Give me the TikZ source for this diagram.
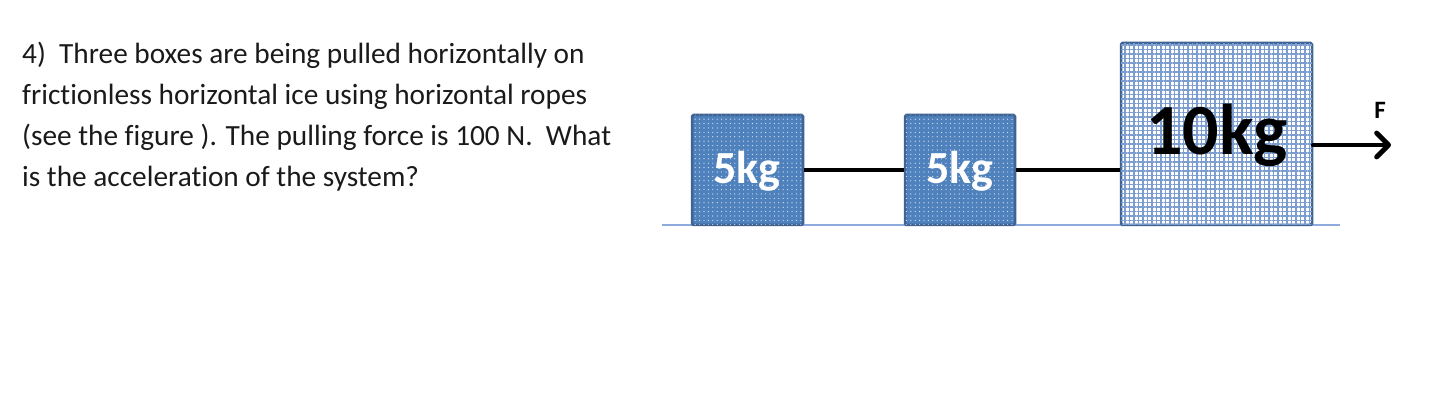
\documentclass[tikz,border=0pt]{standalone}
\usepackage{fontspec}
\setmainfont{Carlito}[Ligatures=NoCommon]
\usetikzlibrary{patterns.meta,arrows.meta}
\definecolor{boxblue}{HTML}{4F81BD}
\definecolor{boxedge}{HTML}{3F6494}
\definecolor{gridblue}{HTML}{7B9DD0}
\definecolor{groundblue}{HTML}{8FAADC}
\definecolor{txt}{HTML}{1A1A1A}
\tikzset{
  qtext/.style={anchor=base west, inner sep=0pt, text=txt, font=\fontsize{29.3}{29.3}\selectfont},
  dotbox/.style={draw=boxedge, line width=2.5pt, rounded corners=1.5pt, fill=boxblue,
    postaction={pattern={Dots[distance=4.4pt, radius=0.6pt]}, pattern color=white!85!boxblue},
    inner sep=0pt},
  gridbox/.style={draw=boxedge, line width=2.5pt, rounded corners=1.5pt, fill=white,
    postaction={pattern={Hatch[angle=0, distance=4.5pt, line width=1.4pt]}, pattern color=gridblue},
    inner sep=0pt},
  smalllabel/.style={anchor=base, inner sep=0pt, text=white, font=\fontsize{46}{46}\selectfont\bfseries},
  biglabel/.style={anchor=base, inner sep=0pt, text=black, font=\fontsize{72}{72}\selectfont\bfseries},
  rope/.style={line width=4.8pt, black},
  ground/.style={line width=1.2pt, groundblue}
}
\begin{document}
\begin{tikzpicture}[x=1pt,y=-1pt]
\useasboundingbox (0,0) rectangle (1430,414);
\node[qtext] (l1) at (22,63.5) {4)\ \ Three boxes are being pulled horizontally on};
\node[qtext] (l2) at (22,104.5) {frictionless horizontal ice using horizontal ropes};
\node[qtext] (l3) at (22,145.5) {(see the figure ). The pulling force is 100 N.\ \ What};
\node[qtext] (l4) at (22,186.5) {is the acceleration of the system?};
\coordinate (g1) at (662,225);
\coordinate (g2) at (1340,225);
\draw[ground] (g1) -- (g2);
\node[dotbox, minimum width=111pt, minimum height=110pt] (b1) at (747.5,170) {};
\node[dotbox, minimum width=110pt, minimum height=110pt] (b2) at (960,170) {};
\node[gridbox, minimum width=191pt, minimum height=182pt] (b3) at (1216.5,134) {};
\node[smalllabel] (t1) at (747,184) {5kg};
\node[smalllabel] (t2) at (960,184) {5kg};
\node[biglabel] (t3) at (1217,155) {10kg};
\draw[rope] (b1.east) -- (b2.west);
\draw[rope] (b2.east) -- (b2.east -| b3.west);
\coordinate (tip) at (1391,145);
\draw[rope, line join=round, line cap=round, -{Straight Barb[length=12pt,width=24pt,round]}] (tip -| b3.east) -- (tip);
\node[anchor=base, inner sep=0pt, font=\fontsize{25}{25}\selectfont\bfseries] (F) at (1380,119) {F};
\end{tikzpicture}
\end{document}
